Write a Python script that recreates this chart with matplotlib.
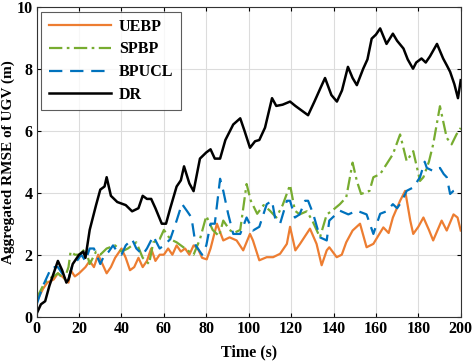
import matplotlib
matplotlib.use("Agg")
import matplotlib.pyplot as plt

# ---- data ----
t_dr = [0, 2, 4, 6, 8, 10, 12, 14, 15, 17, 20, 22, 23, 25, 28, 30, 32, 33, 35, 38, 42, 45, 48, 50,
        52, 54, 56, 59, 61, 63, 66, 68, 69.5, 72, 74, 77, 80, 82, 84, 86.5, 89, 92.7, 96, 98, 100.6,
        103, 105, 107.7, 111, 113, 116, 119.5, 122, 124, 128, 131, 134, 136, 139, 141.6, 144,
        146.8, 149, 151, 154, 156, 158, 160, 162, 165, 168, 170, 173, 175, 177.5, 179, 181.5,
        183.5, 185.5, 188.8, 191.7, 193.5, 195, 197, 198.7, 200]
v_dr = [0.1, 0.4, 0.5, 1.0, 1.4, 1.8, 1.5, 1.1, 1.2, 1.7, 2.0, 2.1, 1.9, 2.8, 3.6, 4.1, 4.2, 4.5, 3.9, 3.7, 3.6, 3.4, 3.5, 3.9,
        3.8, 3.8, 3.5, 3.0, 3.0, 3.5, 4.2, 4.4, 4.85, 4.3, 4.05, 5.1, 5.3, 5.4, 5.1, 5.1, 5.7, 6.2, 6.4, 6.0, 5.45,
        5.66, 5.7, 6.1, 7.05, 6.8, 6.84, 6.94, 6.8, 6.7, 6.5, 6.94, 7.4, 7.7, 7.15, 6.94, 7.3,
        8.06, 7.7, 7.47, 8.0, 8.3, 8.97, 9.1, 9.3, 8.8, 9.13, 8.9, 8.65, 8.3, 8.0, 8.2, 8.33,
        8.2, 8.4, 8.8, 8.33, 8.1, 7.9, 7.5, 7.05, 7.63]

t_sp = [0, 3, 5, 8, 10, 13, 15, 16, 18, 20, 23, 25, 28, 30, 33, 37, 40, 43, 47, 50, 53, 55, 58, 60,
        63, 66, 70, 74, 77, 80, 83, 86, 88, 91, 93, 96, 99, 101, 104, 107, 110, 113, 116, 119.5,
        121.8, 124, 127.4, 130, 133.6, 136.8, 139, 143, 146, 149, 151, 153, 157, 158.8, 162,
        165, 168, 171.4, 174.5, 177.6, 180.8, 182.4, 185, 187, 190.2, 193.4, 195.7, 198, 200]
v_sp = [0.6, 1.0, 1.2, 1.3, 1.4, 1.2, 1.6, 2.1, 2.0, 2.0, 2.2, 1.7, 2.1, 2.0, 2.2, 2.3, 2.1, 2.2, 2.4, 1.9, 1.7, 2.4, 2.5, 2.8,
        2.5, 2.4, 2.2, 2.0, 2.5, 3.25, 2.8, 2.6, 3.1, 2.8, 2.7, 2.8, 4.28, 3.74, 3.32, 3.6, 3.42, 3.2, 3.6, 4.25,
        3.42, 3.3, 3.4, 3.1, 2.56, 3.3, 3.4, 3.63, 3.85, 4.97, 4.38, 3.96, 4.06, 4.5, 4.6,
        4.92, 5.24, 5.88, 5.02, 5.34, 4.38, 4.5, 5.0, 5.56, 6.79, 5.77, 5.56, 5.88, 6.09]

t_bp = [0, 3, 5, 7, 10, 13, 15, 17, 19, 21, 23, 25, 27, 30, 32, 34, 36, 38, 40, 42, 45, 47, 50, 52,
        55, 58, 60, 63, 66, 68.5, 71, 73, 75, 78, 80, 82, 84, 86.5, 88, 90.3, 92.7, 96, 99, 102,
        105, 108.5, 111, 112.4, 114.8, 118, 119.5, 121.8, 124, 126.6, 128, 130.4, 133.6, 136.8,
        138, 143, 147, 151, 155.6, 158.8, 162, 165, 168, 170, 172, 174.5, 177.6, 180.8, 183,
        184, 187, 190.2, 192, 193.4, 195, 196.6, 199.7]
v_bp = [0.4, 1.0, 1.3, 1.6, 1.6, 1.3, 1.2, 1.7, 1.8, 2.0, 1.8, 2.2, 2.2, 1.7, 2.0, 2.1, 2.3, 2.1, 2.0, 2.3, 2.5, 2.2, 2.0, 2.2,
        2.6, 2.2, 2.3, 2.5, 3.1, 3.64, 3.4, 3.2, 2.3, 2.0, 2.3, 3.0, 3.0, 4.45, 4.06, 3.32, 2.67, 2.67, 3.2, 2.78,
        2.9, 3.63, 3.74, 3.2, 3.0, 3.74, 3.74, 3.2, 3.3, 3.74, 3.74, 3.32, 2.56, 2.46,
        3.1, 3.42, 3.3, 3.42, 3.3, 2.67, 3.32, 3.4, 3.63, 3.5, 3.7, 4.06, 4.17, 4.5, 5.0,
        4.8, 4.7, 4.8, 4.6, 4.5, 3.96, 4.06, 4.17]

t_ue = [0, 3, 5, 8, 10, 12, 15, 16, 18, 20, 23, 25, 27, 29, 31, 33, 35, 37, 40, 42, 44, 46, 48, 50,
        52, 54, 56, 58, 60, 62, 64, 66, 68, 70, 72, 74, 76, 78, 80.2, 82, 85, 88, 91, 94.3, 97.4,
        100.6, 102, 105, 108.5, 111.5, 114.8, 118, 119.5, 122, 124.2, 128.9, 132, 134.4, 136.8,
        138, 141.5, 143.9, 146, 149, 152.5, 155.6, 158.8, 161, 163.5, 166, 168, 171.4, 173.8,
        176.2, 177.6, 180, 182.4, 185, 187, 191, 193.4, 196.6, 198.5, 200]
v_ue = [0.5, 0.9, 1.1, 1.2, 1.4, 1.3, 1.1, 1.5, 1.3, 1.4, 1.6, 1.8, 1.6, 2.0, 1.7, 1.4, 1.6, 1.9, 2.2, 1.9, 1.5, 1.6, 1.9, 1.6,
        1.8, 2.2, 1.8, 2.0, 2.0, 2.2, 2.0, 2.3, 2.1, 2.2, 2.0, 2.3, 2.2, 1.9, 1.85, 2.2, 3.0, 2.46, 2.56, 2.46, 2.14,
        2.67, 2.46, 1.82, 1.92, 1.92, 2.03, 2.35, 2.9, 2.14, 2.35, 2.84, 2.35, 1.66, 2.14,
        2.24, 1.92, 2.0, 2.4, 2.78, 3.0, 2.24, 2.35, 2.6, 2.88, 2.7, 3.2, 3.74, 4.06,
        3.1, 2.67, 2.9, 3.2, 2.8, 2.46, 3.1, 2.78, 3.3, 3.2, 2.78]

labels = ["UEBP", "SPBP", "BPUCL", "DR"]
xticks = [0, 20, 40, 60, 80, 100, 120, 140, 160, 180, 200]
yticks = [0, 2, 4, 6, 8, 10]

# ---- style ----
plt.rcParams['font.family'] = ['Liberation Serif', 'DejaVu Serif']
plt.rcParams['font.weight'] = 'bold'

fig = plt.figure(figsize=(4.74, 3.61), dpi=100)
ax = fig.add_axes([0.0774, 0.1227, 0.8946, 0.8587])

ax.plot(t_ue, v_ue, color='#ED7D31', lw=1.6, ls='-', label=labels[0])
ax.plot(t_sp, v_sp, color='#77AC30', lw=1.6, ls=(0, (6, 2, 1.2, 2)), label=labels[1])
ax.plot(t_bp, v_bp, color='#0072BD', lw=1.6, ls=(0, (6, 3.5)), label=labels[2])
ax.plot(t_dr, v_dr, color='black', lw=1.8, ls='-', label=labels[3])

ax.set_xlim(0, 200)
ax.set_ylim(0, 10)
ax.set_xticks(xticks)
ax.set_yticks(yticks)
ax.tick_params(direction='in', top=True, right=True, labelsize=11.5, length=3, pad=3)
for lab in ax.get_xticklabels() + ax.get_yticklabels():
    lab.set_fontweight('bold')
ax.grid(True, color='#dcdcdc', lw=0.8)
ax.set_axisbelow(True)
for s in ax.spines.values():
    s.set_color('#333333')
    s.set_linewidth(0.8)

ax.set_xlabel('Time (s)', fontsize=11.5, fontweight='bold')
ax.xaxis.set_label_coords(0.5, -0.088, transform=ax.transAxes)
ax.set_ylabel('Aggregated RMSE of UGV (m)', fontsize=11, fontweight='bold', va='center')
ax.yaxis.set_label_coords(-0.068, 0.5, transform=ax.transAxes)

leg = ax.legend(loc='upper left', fontsize=11.5, handlelength=3.9, frameon=True, fancybox=False,
                edgecolor='#333333', borderaxespad=0.3, labelspacing=0.42, handletextpad=0.5,
                borderpad=0.45)
leg.get_frame().set_linewidth(0.8)
for txt in leg.get_texts():
    txt.set_fontweight('bold')

fig.savefig('out.png', dpi=100)
